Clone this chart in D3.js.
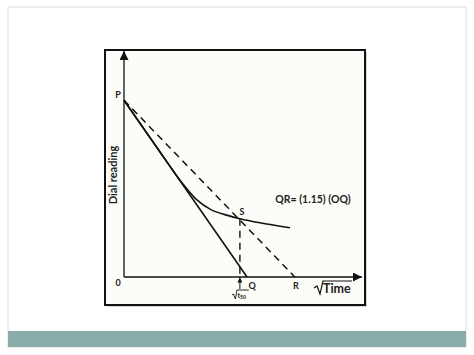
<!DOCTYPE html>
<html>
<head>
<meta charset="utf-8">
<script src="https://cdn.jsdelivr.net/npm/d3@7"></script>
<style>
  body { margin: 0; background: #fff; }
  svg text { font-family: Lato, "Open Sans", sans-serif; font-weight: bold; fill: #222; }
</style>
</head>
<body>
<div id="chart"></div>
<script>
// values (axis units 0..100)
const pointNames = ["P", "Q", "R", "S"];
const pointX = [0, 51.7, 71.8, 48.7];
const pointY = [78.2, 0, 0, 25.8];
const curveX = [0, 13, 24.5, 30.5, 36.5, 42.4, 48.7, 57.1, 69.7];
const curveY = [78.2, 58.5, 41.5, 34.2, 29.8, 27.6, 25.8, 24.0, 21.8];
const note = "QR= (1.15) (OQ)";
const yTitle = "Dial reading";
const xTitle = "Time";

const width = 474, height = 355;
const svg = d3.select("#chart").append("svg")
  .attr("width", width).attr("height", height);

// slide frame
svg.append("rect").attr("x", 8).attr("y", 7).attr("width", 458).attr("height", 340)
  .attr("fill", "#fff").attr("stroke", "#d9dddd").attr("stroke-width", 1);
svg.append("rect").attr("x", 8).attr("y", 331).attr("width", 458).attr("height", 16)
  .attr("fill", "#8aadac");

// picture box with a soft shadow
svg.append("rect").attr("x", 107).attr("y", 52).attr("width", 260).attr("height", 255)
  .attr("fill", "#bbb").attr("opacity", 0.6);
svg.append("rect").attr("x", 105).attr("y", 50).attr("width", 260).attr("height", 255)
  .attr("fill", "#fcfcf8").attr("stroke", "#111").attr("stroke-width", 2);

const x = d3.scaleLinear().domain([0, 100]).range([124, 362]);
const y = d3.scaleLinear().domain([0, 100]).range([277, 51]);

const defs = svg.append("defs");
defs.append("marker").attr("id", "tip")
  .attr("viewBox", "0 0 10 10").attr("refX", 10).attr("refY", 5)
  .attr("markerWidth", 9).attr("markerHeight", 9).attr("markerUnits", "userSpaceOnUse")
  .attr("orient", "auto")
  .append("path").attr("d", "M0,0L10,5L0,10Z").attr("fill", "#111");
defs.append("marker").attr("id", "tipSmall")
  .attr("viewBox", "0 0 10 10").attr("refX", 10).attr("refY", 5)
  .attr("markerWidth", 5).attr("markerHeight", 5).attr("markerUnits", "userSpaceOnUse")
  .attr("orient", "auto")
  .append("path").attr("d", "M0,0L10,5L0,10Z").attr("fill", "#111");

// axes
svg.append("line").attr("x1", x(0)).attr("y1", y(0)).attr("x2", x(0)).attr("y2", y(100))
  .attr("stroke", "#111").attr("stroke-width", 1.3).attr("marker-end", "url(#tip)");
svg.append("line").attr("x1", x(0)).attr("y1", y(0)).attr("x2", x(100)).attr("y2", y(0))
  .attr("stroke", "#111").attr("stroke-width", 1.3).attr("marker-end", "url(#tip)");

const line = d3.line().x(d => x(d[0])).y(d => y(d[1]));

// P -> Q solid tangent
svg.append("path").datum([[pointX[0], pointY[0]], [pointX[1], pointY[1]]])
  .attr("d", line).attr("fill", "none").attr("stroke", "#111").attr("stroke-width", 1.6);
// P -> R dashed
svg.append("path").datum([[pointX[0], pointY[0]], [pointX[2], pointY[2]]])
  .attr("d", line).attr("fill", "none").attr("stroke", "#111").attr("stroke-width", 1.5)
  .attr("stroke-dasharray", "7,5");
// S vertical dashed
svg.append("path").datum([[pointX[3], pointY[3]], [pointX[3], 0]])
  .attr("d", line).attr("fill", "none").attr("stroke", "#111").attr("stroke-width", 1.4)
  .attr("stroke-dasharray", "7,5");
// consolidation curve
svg.append("path").datum(curveX.map((v, i) => [v, curveY[i]]))
  .attr("d", d3.line().x(d => x(d[0])).y(d => y(d[1])).curve(d3.curveCatmullRom.alpha(0.5)))
  .attr("fill", "none").attr("stroke", "#111").attr("stroke-width", 1.6);

// small arrow marking sqrt(t50)
svg.append("line").attr("x1", x(pointX[3])).attr("y1", y(-5.3))
  .attr("x2", x(pointX[3])).attr("y2", y(0) + 0.5)
  .attr("stroke", "#111").attr("stroke-width", 1).attr("marker-end", "url(#tipSmall)");

// labels
svg.append("text").attr("x", x(0) - 6).attr("y", y(pointY[0]) - 2).attr("font-size", 9)
  .attr("text-anchor", "middle").text(pointNames[0]);
svg.append("text").attr("x", x(0) - 6).attr("y", y(0) + 9).attr("font-size", 9)
  .attr("text-anchor", "middle").text("0");
svg.append("text").attr("x", x(pointX[1]) + 5).attr("y", y(0) + 12).attr("font-size", 9)
  .attr("text-anchor", "middle").text(pointNames[1]);
svg.append("text").attr("x", x(pointX[2]) + 1).attr("y", y(0) + 12).attr("font-size", 9)
  .attr("text-anchor", "middle").text(pointNames[2]);
svg.append("text").attr("x", x(pointX[3]) + 2).attr("y", y(pointY[3]) - 4).attr("font-size", 9)
  .attr("text-anchor", "middle").text(pointNames[3]);
svg.append("text").attr("x", 313).attr("y", 203).attr("font-size", 10.5)
  .attr("text-anchor", "middle").text(note);
svg.append("text").attr("transform", "translate(117,175) rotate(-90)")
  .attr("font-size", 11).attr("text-anchor", "middle").text(yTitle);

// sqrt(Time)
svg.append("path").attr("d", "M314,288 L317,286 L320,294 L323,281 L352,281")
  .attr("fill", "none").attr("stroke", "#111").attr("stroke-width", 1.2);
svg.append("text").attr("x", 323).attr("y", 293).attr("font-size", 12.5).text(xTitle);

// sqrt(t50)
const tx = x(pointX[3]);
svg.append("path").attr("d", `M${tx - 8},295 L${tx - 6.5},294 L${tx - 4.5},299 L${tx - 3},290 L${tx + 9},290`)
  .attr("fill", "none").attr("stroke", "#111").attr("stroke-width", 0.9);
svg.append("text").attr("x", tx - 2.5).attr("y", 298).attr("font-size", 7).text("t")
  .append("tspan").attr("font-size", 5).attr("dy", 0.5).text("50");
</script>
</body>
</html>
